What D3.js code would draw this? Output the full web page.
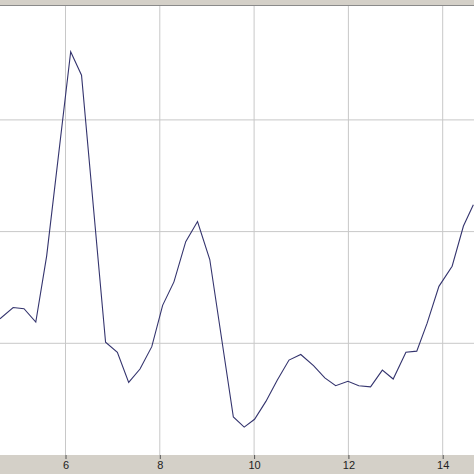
<!DOCTYPE html>
<html><head><meta charset="utf-8">
<script src="https://cdn.jsdelivr.net/npm/d3@7"></script>
<style>body{margin:0;background:#fff}</style></head>
<body><svg id="c" width="474" height="474"></svg>
<script>
const xs=[4.61,4.89,5.12,5.37,5.60,6.11,6.34,6.85,7.10,7.34,7.58,7.83,8.06,8.30,8.55,8.80,9.06,9.56,9.79,10.01,10.25,10.49,10.74,10.99,11.26,11.50,11.73,11.99,12.22,12.47,12.72,12.95,13.22,13.45,13.67,13.92,14.20,14.44,14.65];
const ys=[1.22,1.32,1.31,1.19,1.78,3.61,3.40,1.01,0.92,0.65,0.77,0.97,1.34,1.55,1.91,2.09,1.75,0.34,0.25,0.32,0.48,0.67,0.85,0.90,0.80,0.69,0.62,0.66,0.62,0.61,0.76,0.68,0.92,0.93,1.18,1.51,1.69,2.05,2.24];
const xTicks=[6,8,10,12,14];
const yGrid=[1,2,3];
const svg=d3.select("#c");
const x=d3.scaleLinear().domain([6,14]).range([65.5,442.7]);
const y=d3.scaleLinear().domain([0,1]).range([455,343.3]);
svg.append("g").selectAll("line").data(xTicks).join("line")
 .attr("x1",d=>x(d)).attr("x2",d=>x(d)).attr("y1",6).attr("y2",455).attr("stroke","#c8c8c8");
svg.append("g").selectAll("line").data(yGrid).join("line")
 .attr("x1",0).attr("x2",474).attr("y1",d=>y(d)).attr("y2",d=>y(d)).attr("stroke","#c8c8c8");
svg.append("path").datum(xs.map((v,i)=>[v,ys[i]]))
 .attr("d",d3.line().x(d=>x(d[0])).y(d=>y(d[1])))
 .attr("fill","none").attr("stroke","#34346e").attr("stroke-width",1.1);
svg.append("rect").attr("x",0).attr("y",0).attr("width",474).attr("height",5).attr("fill","#d4d0c8");
svg.append("line").attr("x1",0).attr("x2",474).attr("y1",5.5).attr("y2",5.5).attr("stroke","#8a8a8a");
svg.append("rect").attr("x",0).attr("y",455).attr("width",474).attr("height",19).attr("fill","#d4d0c8");
const ax=svg.append("g").attr("transform","translate(0,455)")
 .call(d3.axisBottom(x).tickValues(xTicks).tickSize(4).tickPadding(2).tickFormat(d3.format("d")));
ax.select(".domain").remove();
ax.selectAll("line").attr("stroke","#555");
ax.selectAll("text").attr("font-family","Arial, Liberation Sans, sans-serif").attr("font-size",11).attr("fill","#222");
</script></body></html>
